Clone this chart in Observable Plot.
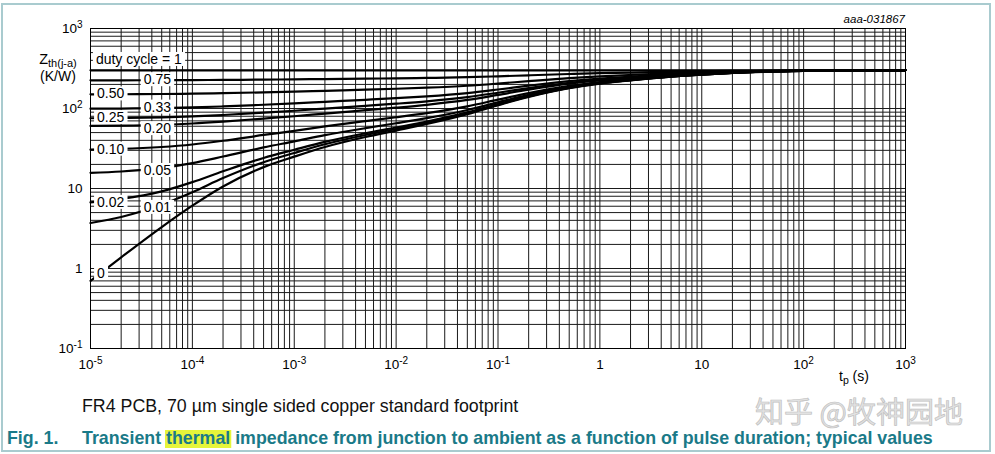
<!DOCTYPE html>
<html><head><meta charset="utf-8">
<script src="https://cdn.jsdelivr.net/npm/d3@7"></script>
<script src="https://cdn.jsdelivr.net/npm/@observablehq/plot@0.6"></script>
<style>
body{margin:0;background:#fff;}
#wrap{position:relative;width:995px;height:454px;overflow:hidden;background:#fff;}
</style></head><body>
<div id="wrap"></div>
<script>
// pulse duration t_p (s)
const tp = [1e-5, 2e-5, 5e-5, 1e-4, 2e-4, 5e-4, 1e-3, 2e-3, 5e-3, 1e-2, 2e-2, 5e-2, 0.1, 0.2, 0.5, 1, 2, 5, 10, 20, 50, 100, 1000];
// Zth(j-a) in K/W, one list per duty cycle
const zD100 = [300, 300, 300, 300, 300, 300, 300, 300, 300, 300, 300, 300, 300, 300, 300, 300, 300, 300, 300, 300, 300, 300, 300];
const zD075 = [225.2, 225.3, 225.8, 226.5, 227.7, 229.6, 231.3, 233.3, 236, 238.3, 241, 246.3, 252.5, 260, 270, 276.3, 281.3, 287.5, 291.3, 294.5, 297.5, 299, 300];
const zD050 = [150.4, 150.7, 151.7, 153.1, 155.3, 159.3, 162.5, 166.5, 172, 176.5, 182, 192.5, 205, 220, 240, 252.5, 262.5, 275, 282.5, 289, 295, 298, 300];
const zD033 = [99.5, 99.9, 101.2, 103.1, 106.1, 111.4, 115.8, 121.1, 128.5, 134.5, 141.9, 156, 172.7, 192.8, 219.6, 236.4, 249.8, 266.5, 276.6, 285.3, 293.3, 297.3, 300];
const zD025 = [75.5, 76, 77.5, 79.6, 83, 88.9, 93.8, 99.8, 108, 114.8, 123, 138.8, 157.5, 180, 210, 228.8, 243.8, 262.5, 273.8, 283.5, 292.5, 297, 300];
const zD020 = [60.6, 61.1, 62.6, 64.9, 68.5, 74.8, 80, 86.4, 95.2, 102.4, 111.2, 128, 148, 172, 204, 224, 240, 260, 272, 282.4, 292, 296.8, 300];
const zD010 = [30.6, 31.2, 33, 35.5, 39.5, 46.7, 52.5, 59.7, 69.6, 77.7, 87.6, 106.5, 129, 156, 192, 214.5, 232.5, 255, 268.5, 280.2, 291, 296.4, 300];
const zD005 = [15.7, 16.3, 18.1, 20.8, 25.1, 32.6, 38.8, 46.4, 56.8, 65.4, 75.8, 95.8, 119.5, 148, 186, 209.8, 228.8, 252.5, 266.8, 279.1, 290.5, 296.2, 300];
const zD002 = [6.7, 7.4, 9.2, 12, 16.4, 24.1, 30.5, 38.3, 49.1, 57.9, 68.7, 89.3, 113.8, 143.2, 182.4, 206.9, 226.5, 251, 265.7, 278.4, 290.2, 296.1, 300];
const zD001 = [3.7, 4.4, 6.3, 9, 13.5, 21.3, 27.8, 35.7, 46.6, 55.5, 66.4, 87.2, 111.9, 141.6, 181.2, 206, 225.8, 250.5, 265.4, 278.2, 290.1, 296, 300];
const zD000 = [0.7, 1.38, 3.3, 6.1, 10.6, 18.5, 25, 33, 44, 53, 64, 85, 110, 140, 180, 205, 225, 250, 265, 278, 290, 296, 300];
const dutyCycles = ["1", "0.75", "0.50", "0.33", "0.25", "0.20", "0.10", "0.05", "0.02", "0.01", "0"];
const seriesList = [zD100, zD075, zD050, zD033, zD025, zD020, zD010, zD005, zD002, zD001, zD000];

// curve labels (text, t position, Z position)
const labelText = ["duty cycle = 1", "0.75", "0.50", "0.33", "0.25", "0.20", "0.10", "0.05", "0.02", "0.01", "0"];
const labelT = [1.13e-5, 3.33e-5, 1.16e-5, 3.33e-5, 1.16e-5, 3.33e-5, 1.16e-5, 3.33e-5, 1.16e-5, 3.33e-5, 1.16e-5];
const labelZ = [410, 229, 152, 104, 77, 56, 31, 16.8, 6.7, 5.8, 0.87];

// axis ticks
const xTicks = [1e-5, 1e-4, 1e-3, 1e-2, 1e-1, 1, 10, 100, 1000];
const yTicks = [0.1, 1, 10, 100, 1000];
const xDomain = [1e-5, 1e3];
const yDomain = [0.1, 1e3];

const rows = dutyCycles.flatMap((d, i) => tp.map((t, j) => ({t, z: seriesList[i][j], duty: d})));
const labels = labelText.map((s, i) => ({text: s, t: labelT[i], z: labelZ[i]}));
const xGrid = d3.scaleLog().domain(xDomain).ticks();
const yGrid = d3.scaleLog().domain(yDomain).ticks();

const fmt = d => {
  if (d === 1) return "1";
  if (d === 10) return "10";
  return "10^" + Math.round(Math.log10(d));
};

const FONT = "'Liberation Sans', Arial, Helvetica, sans-serif";
const chart = Plot.plot({
  width: 995, height: 454,
  marginLeft: 90, marginRight: 90, marginTop: 28, marginBottom: 106,
  style: {fontFamily: FONT, fontSize: "13px", color: "#000", background: "transparent"},
  x: {type: "log", domain: xDomain, ticks: xTicks, tickFormat: fmt, tickSize: 0, tickPadding: 11, label: null},
  y: {type: "log", domain: yDomain, ticks: yTicks, tickFormat: fmt, tickSize: 0, tickPadding: 8, label: null},
  marks: [
    Plot.ruleX(xGrid, {stroke: "#1a1a1a", strokeWidth: 1}),
    Plot.ruleY(yGrid, {stroke: "#1a1a1a", strokeWidth: 1}),
    Plot.frame({stroke: "#000", strokeWidth: 1}),
    Plot.line(rows, {x: "t", y: "z", z: "duty", stroke: "#000", strokeWidth: 2.2, curve: "monotone-x"}),
    Plot.text(labels, {x: "t", y: "z", text: "text", textAnchor: "start", fontSize: 14, fill: "#000"})
  ]
});
const wrap = document.getElementById("wrap");
wrap.appendChild(chart);
const svg = d3.select(chart);

// tick labels: larger font, superscript exponents
svg.selectAll("text").each(function() {
  const s = this.textContent;
  if (/^(1|10|10\^-?\d+)$/.test(s)) {
    const t = d3.select(this);
    t.style("font-size", "13.5px").attr("fill", "#000");
    const m = /^10\^(-?\d+)$/.exec(s);
    if (m) {
      t.text("10");
      t.append("tspan").attr("dy", "-0.5em").attr("font-size", "10px").text(m[1]);
    }
  }
});

// white boxes behind curve labels
svg.selectAll("text").filter(function() { return labelText.includes(this.textContent); }).each(function() {
  const b = this.getBBox();
  const r = document.createElementNS("http://www.w3.org/2000/svg", "rect");
  r.setAttribute("x", b.x - 3);
  r.setAttribute("y", b.y + 1);
  r.setAttribute("width", b.width + 6);
  r.setAttribute("height", b.height - 2);
  r.setAttribute("fill", "#fff");
  r.setAttribute("stroke", "none");
  const tr = this.getAttribute("transform");
  if (tr) r.setAttribute("transform", tr);
  this.parentNode.insertBefore(r, this);
});

// annotations
const ov = svg.append("g").attr("font-family", FONT).attr("text-anchor", "start").attr("fill", "#000");
ov.append("rect").attr("x", 2).attr("y", 4).attr("width", 988).attr("height", 447)
  .attr("fill", "none").attr("stroke", "#a9cbcf").attr("stroke-width", 2);
ov.append("text").attr("x", 905).attr("y", 23).attr("text-anchor", "end")
  .attr("font-size", 11.5).attr("font-style", "italic").text("aaa-031867");
const yt = ov.append("text").attr("x", 58).attr("y", 64).attr("text-anchor", "middle").attr("font-size", 14.5);
yt.append("tspan").text("Z");
yt.append("tspan").attr("dy", 3).attr("font-size", 11).text("th(j-a)");
ov.append("text").attr("x", 58).attr("y", 81).attr("text-anchor", "middle").attr("font-size", 14).text("(K/W)");
const xt = ov.append("text").attr("x", 839).attr("y", 381).attr("font-size", 14);
xt.append("tspan").text("t");
xt.append("tspan").attr("dy", 3).attr("font-size", 10.5).text("p");
xt.append("tspan").attr("dy", -3).text(" (s)");
ov.append("text").attr("x", 82).attr("y", 412).attr("font-size", 17.8).attr("fill", "#111")
  .text("FR4 PCB, 70 µm single sided copper standard footprint");
ov.append("text").attr("x", 755).attr("y", 423).attr("font-size", 29)
  .attr("font-family", "'Noto Sans CJK SC', sans-serif")
  .attr("fill", "#e2e2e2").attr("stroke", "#c0c0c0").attr("stroke-width", 0.7)
  .text("知乎 @牧神园地");
const teal = "#1a7a88";
ov.append("text").attr("x", 7).attr("y", 444).attr("font-size", 17.8).attr("font-weight", "bold").attr("fill", teal).text("Fig. 1.");
const hl = ov.append("rect").attr("fill", "#e6f53a");
const cap = ov.append("text").attr("x", 82).attr("y", 444).attr("font-size", 17.8).attr("font-weight", "bold").attr("fill", teal)
  .text("Transient thermal impedance from junction to ambient as a function of pulse duration; typical values");
const capNode = cap.node();
const pre = "Transient ".length;
const x0 = 82 + capNode.getSubStringLength(0, pre);
const w = capNode.getSubStringLength(pre, 7);
hl.attr("x", x0 - 1).attr("y", 430).attr("width", w + 2).attr("height", 18);
</script>
</body></html>
